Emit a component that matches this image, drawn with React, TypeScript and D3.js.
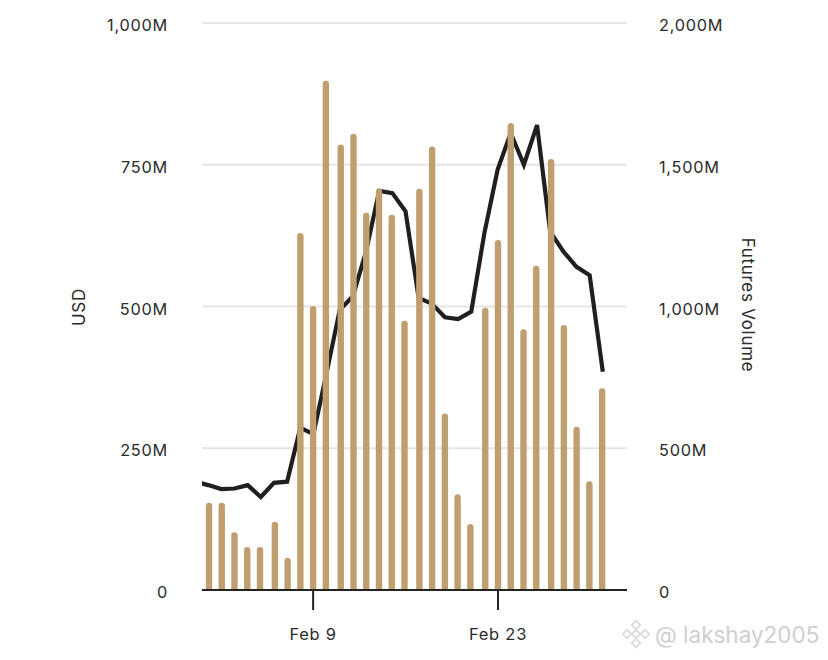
import * as d3 from "d3";

const WIDTH = 828;
const HEIGHT = 660;

// one point per day, Feb 1 to Mar 3
const startDay = new Date(Date.UTC(2021, 1, 1));
const endDay = new Date(Date.UTC(2021, 2, 3));
const days = d3.utcDay.range(startDay, d3.utcDay.offset(endDay, 1));

const futuresVolume = [
  308, 308, 204, 152, 152, 241, 114, 1259, 1002, 1796, 1571, 1609, 1331, 1415, 1324, 950,
  1415, 1564, 623, 338, 233, 996, 1235, 1647, 920, 1144, 1520, 935, 576, 384, 712,
];
const usdValue = [
  185, 178, 179, 185, 164, 189, 191, 286, 275, 383, 494, 518, 597, 704, 700, 668,
  515, 505, 481, 478, 491, 630, 741, 806, 750, 820, 632, 597, 570, 555, 385,
];
// the line comes in from the day before the plot starts
const usdDayBefore = 191;

const usdTicks = [0, 250, 500, 750, 1000];
const volumeTicks = [0, 500, 1000, 1500, 2000];
const dateTicks = [new Date(Date.UTC(2021, 1, 9)), new Date(Date.UTC(2021, 1, 23))];

const left = 202;
const right = 627;
const baseline = 590;
const top = 23;

// the chart was laid out at 2.125x and the bars snap to its whole pixels
const unit = 2.125;
const x0 = 208.2;
const x = d3.scaleUtc().domain([startDay, endDay]).range([x0, x0 + 30 * 6.19 * unit]);
const snap = (v: number) => 209 + Math.round((v - 209) / unit) * unit;

const yUsd = d3.scaleLinear().domain([0, 1000]).range([baseline, top]);
const yVolume = d3.scaleLinear().domain([0, 2000]).range([baseline, top]);

const money = (v: number) => (v === 0 ? "0" : `${d3.format(",")(v)}M`);
const dateLabel = d3.utcFormat("%b %-d");

const barPath = (cx: number, yTop: number) => {
  const half = 3.2;
  const p = d3.path();
  p.moveTo(cx - half, baseline);
  p.lineTo(cx - half, yTop + half);
  p.arc(cx, yTop + half, half, Math.PI, 0);
  p.lineTo(cx + half, baseline);
  p.closePath();
  return p.toString();
};

const usdLine = d3
  .line<[Date, number]>()
  .x((d) => x(d[0]))
  .y((d) => yUsd(d[1]));

const linePoints: [Date, number][] = [
  [d3.utcDay.offset(startDay, -1), usdDayBefore],
  ...days.map((d, i): [Date, number] => [d, usdValue[i]]),
];

const font = "Inter, 'Open Sans', sans-serif";
const textColor = "#2b2b2b";

const App = () => {
  return (
    <svg
      width={WIDTH}
      height={HEIGHT}
      style={{ position: "absolute", left: 0, top: 0, background: "#fff" }}
      fontFamily={font}
      fontSize={16.3}
      letterSpacing={0.75}
      fill={textColor}
    >
      <defs>
        <clipPath id="plot">
          <rect x={left} y={0} width={right - left} height={baseline} />
        </clipPath>
      </defs>

      {usdTicks.slice(1).map((t) => (
        <line key={t} x1={left} x2={right} y1={yUsd(t)} y2={yUsd(t)} stroke="#e5e5e5" strokeWidth={2} />
      ))}

      <path
        d={usdLine(linePoints) ?? ""}
        fill="none"
        stroke="#1f1f21"
        strokeWidth={4.2}
        strokeLinejoin="miter"
        clipPath="url(#plot)"
      />

      {days.map((d, i) => (
        <path key={i} d={barPath(snap(x(d)), yVolume(futuresVolume[i]))} fill="#bf9f6f" />
      ))}

      <line x1={left} x2={right} y1={baseline} y2={baseline} stroke="#222" strokeWidth={2} />
      {dateTicks.map((d) => (
        <g key={d.getTime()}>
          <line x1={snap(x(d))} x2={snap(x(d))} y1={baseline} y2={610} stroke="#222" strokeWidth={2} />
          <text x={snap(x(d))} y={640} textAnchor="middle" fontSize={16.5}>
            {dateLabel(d)}
          </text>
        </g>
      ))}

      {usdTicks.map((t) => (
        <text key={t} x={168} y={yUsd(t) + 8} textAnchor="end">
          {money(t)}
        </text>
      ))}
      {volumeTicks.map((t) => (
        <text key={t} x={659} y={yVolume(t) + 8}>
          {money(t)}
        </text>
      ))}

      <text transform="translate(85,307) rotate(-90)" textAnchor="middle" fontSize={17}>
        USD
      </text>
      <text transform="translate(742,305) rotate(90)" textAnchor="middle" fontSize={17} letterSpacing={0.7}>
        Futures Volume
      </text>

      <g fill="none" stroke="#dedede" strokeWidth={2}>
        {[
          [627, 634],
          [636, 625],
          [645, 634],
          [636, 643],
          [636, 634],
        ].map(([cx, cy], i) => (
          <rect key={i} x={cx - 3} y={cy - 3} width={6} height={6} transform={`rotate(45 ${cx} ${cy})`} />
        ))}
      </g>
      <text x={655} y={643} fontSize={22.5} fill="#cfcfcf" letterSpacing={0}>
        @ lakshay2005
      </text>
    </svg>
  );
};

export default App;
